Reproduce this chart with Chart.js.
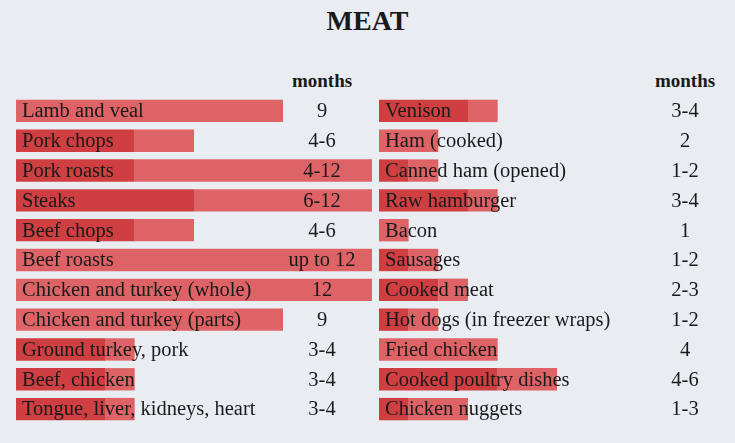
<!DOCTYPE html>
<html lang="en">
<head>
<meta charset="UTF-8">
<title>Meat</title>
<style>
  body { margin: 0; background: #e9edf1; width: 735px; height: 443px; position: relative; overflow: hidden; font-family: "Liberation Serif", serif; color: #1a1a1a; }
  .t { position: absolute; font-weight: bold; text-align: center; }
  .box { position: absolute; top: 96px; width: 356px; height: 328px; }
</style>
</head>
<body>
<div class="t" style="left:0;width:735px;top:5px;font-size:28px;">MEAT</div>
<div class="t" style="left:272px;width:100px;top:70px;font-size:19px;">months</div>
<div class="t" style="left:635px;width:100px;top:70px;font-size:19px;">months</div>
<div class="box" style="left:16px"><canvas id="c1"></canvas></div>
<div class="box" style="left:379px"><canvas id="c2"></canvas></div>
<script src="https://cdn.jsdelivr.net/npm/chart.js"></script>
<script>
// left column
const leftItems = ['Lamb and veal', 'Pork chops', 'Pork roasts', 'Steaks', 'Beef chops', 'Beef roasts',
  'Chicken and turkey (whole)', 'Chicken and turkey (parts)', 'Ground turkey, pork', 'Beef, chicken',
  'Tongue, liver, kidneys, heart'];
const leftLow = [0, 4, 4, 6, 4, 0, 0, 0, 3, 3, 3];
const leftHigh = [9, 6, 12, 12, 6, 12, 12, 9, 4, 4, 4];
const leftText = ['9', '4-6', '4-12', '6-12', '4-6', 'up to 12', '12', '9', '3-4', '3-4', '3-4'];

// right column
const rightItems = ['Venison', 'Ham (cooked)', 'Canned ham (opened)', 'Raw hamburger', 'Bacon', 'Sausages',
  'Cooked meat', 'Hot dogs (in freezer wraps)', 'Fried chicken', 'Cooked poultry dishes', 'Chicken nuggets'];
const rightLow = [3, 0, 1, 3, 0, 1, 2, 1, 0, 4, 1];
const rightHigh = [4, 2, 2, 4, 1, 2, 3, 2, 4, 6, 3];
const rightText = ['3-4', '2', '1-2', '3-4', '1', '1-2', '2-3', '1-2', '4', '4-6', '1-3'];

const textPlugin = {
  id: 'rowText',
  afterDatasetsDraw(chart, args, opts) {
    const ctx = chart.ctx;
    const meta = chart.getDatasetMeta(0);
    ctx.save();
    ctx.font = '20.5px "Liberation Serif", serif';
    ctx.textBaseline = 'middle';
    ctx.fillStyle = '#1a1a1a';
    meta.data.forEach((bar, i) => {
      ctx.textAlign = 'left';
      ctx.fillText(opts.items[i], chart.chartArea.left + 6, bar.y + 1);
      ctx.textAlign = 'center';
      ctx.fillText(opts.values[i], chart.chartArea.left + 306, bar.y + 1);
    });
    ctx.restore();
  }
};

function makeChart(id, items, low, high, values) {
  new Chart(document.getElementById(id), {
    type: 'bar',
    data: {
      labels: items,
      datasets: [
        { data: low, backgroundColor: '#cf3f42', barPercentage: 0.75, categoryPercentage: 1 },
        { data: high.map((h, i) => h - low[i]), backgroundColor: '#de6366', barPercentage: 0.75, categoryPercentage: 1 }
      ]
    },
    options: {
      indexAxis: 'y',
      responsive: true,
      maintainAspectRatio: false,
      animation: false,
      layout: { padding: 0 },
      plugins: { legend: { display: false }, tooltip: { enabled: false }, rowText: { items: items, values: values } },
      scales: {
        x: { stacked: true, min: 0, max: 12, display: false },
        y: { stacked: true, display: false }
      }
    },
    plugins: [textPlugin]
  });
}

makeChart('c1', leftItems, leftLow, leftHigh, leftText);
makeChart('c2', rightItems, rightLow, rightHigh, rightText);
</script>
</body>
</html>
